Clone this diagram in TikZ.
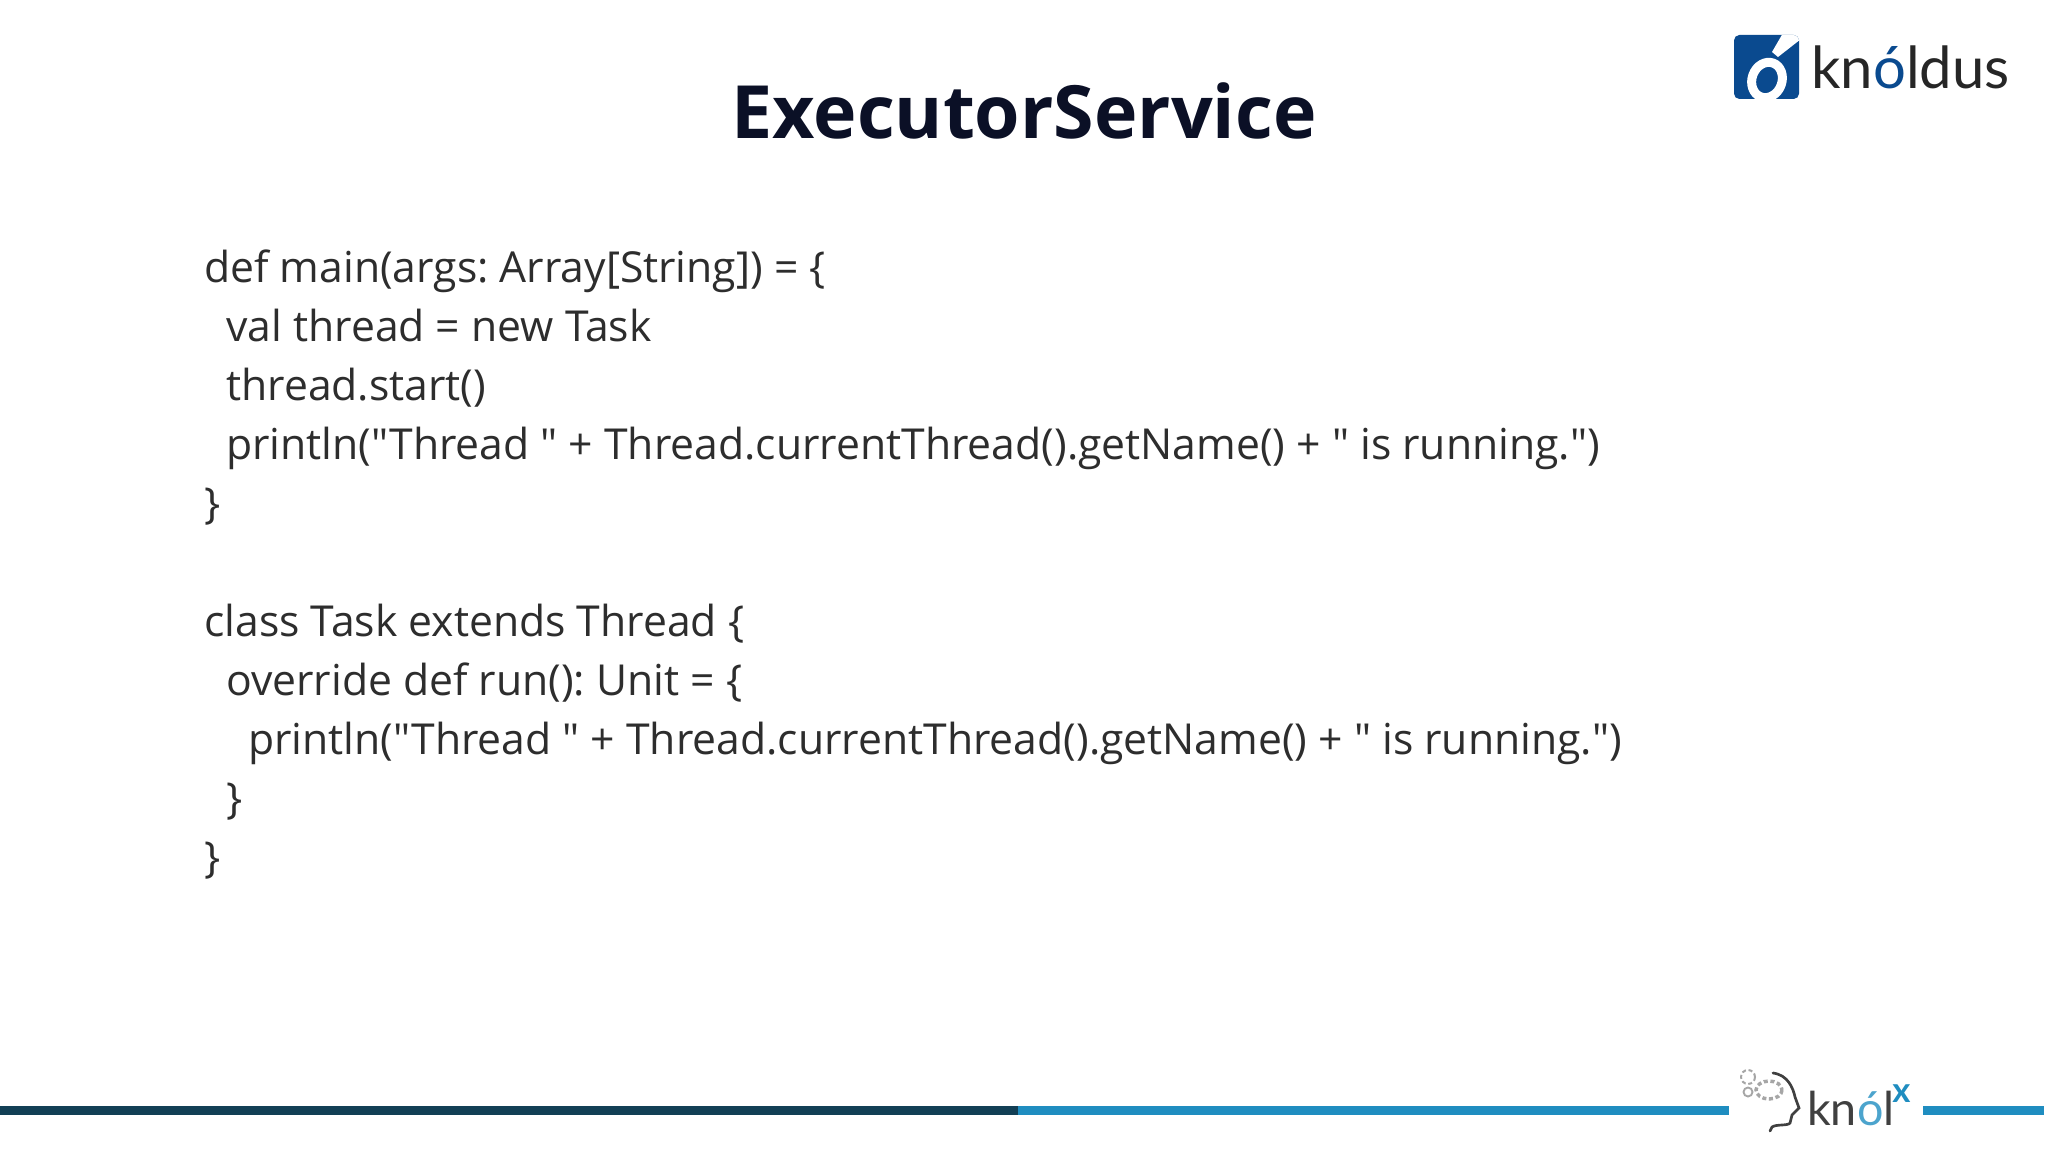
\documentclass[tikz,border=0pt]{standalone}
\usepackage{fontspec}
\usepackage{xcolor}
\newfontfamily\codefont{Open Sans}
\newfontfamily\titlefont{Open Sans}
\newfontfamily\logofont{Lato}
\definecolor{barDark}{RGB}{18,63,85}
\definecolor{barBlue}{RGB}{31,141,192}
\definecolor{logoBlue}{RGB}{10,74,143}
\definecolor{codeInk}{RGB}{45,45,45}
\definecolor{titleInk}{RGB}{11,16,38}
\tikzset{
  codeline/.style={anchor=base west,inner sep=0pt,text=codeInk,font=\codefont\frenchspacing\fontsize{32}{38}\selectfont},
  gearring/.style={draw=gray!70,dash pattern={on 3pt off 2pt},line width=2.6pt}
}
\begin{document}
\begin{tikzpicture}[x=0.75pt,y=0.75pt,yscale=-1,xscale=1]
\useasboundingbox (0,0) rectangle (2048,1152);
\fill [white] (0,0) rectangle (2048,1152);

% Title
\node (title) [anchor=base,inner sep=0pt,text=titleInk,font=\titlefont\bfseries\fontsize{55.1}{65}\selectfont] at (1024,139) {ExecutorService};

% Text Node
\node (mainA) [codeline] at (204,282) {def main(args: Array[String]) = \{};
\node (mainB) [codeline] at (226,341) {val thread = new Task};
\node (mainC) [codeline] at (226,400) {thread.start()};
\node (mainD) [codeline] at (226,459) {println("Thread " + Thread.currentThread().getName() + " is running.")};
\node (mainE) [codeline] at (204,518) {\}};
\node (taskA) [codeline] at (204,636) {class Task extends Thread \{};
\node (taskB) [codeline] at (226,695) {override def run(): Unit = \{};
\node (taskC) [codeline] at (248,754) {println("Thread " + Thread.currentThread().getName() + " is running.")};
\node (taskD) [codeline] at (226,813) {\}};
\node (taskE) [codeline] at (204,872) {\}};

% Bottom bar
\fill [barDark] (0,1106) rectangle (1018,1115);
\fill [barBlue] (1018,1106) rectangle (1729,1115);
\fill [barBlue] (1923,1106) rectangle (2044,1115);

% knoldus logo
\fill [logoBlue,rounded corners=4pt] (1734,35) rectangle (1799,99);
\begin{scope}
\clip [rounded corners=4pt] (1734,35) rectangle (1799,99);
\draw [white,line width=6.75pt,rotate around={20:(1767,80)}] (1767,80) ellipse [x radius=15,y radius=18];
\fill [white] (1783,33) -- (1772,52) -- (1778,57) -- (1801,39) -- (1801,33) -- cycle;
\end{scope}
\node (knoldusName) [anchor=base west,inner sep=0pt,text=black!85,font=\logofont\fontsize{43.5}{50}\selectfont] at (1811,89) {kn\textcolor{logoBlue}{ó}ldus};

% knolx logo
\draw [gearring,line width=1.5pt] (1748,1077) circle [radius=7];
\draw [gray!70,line width=1.4pt] (1748,1092) circle [radius=4.5];
\draw [gearring] (1769,1090) ellipse [x radius=13,y radius=9];
\draw [black!75,line width=2pt,line cap=round] (1773,1073) .. controls (1788,1075) and (1793,1088) .. (1795,1097) -- (1799,1108) -- (1792,1115) -- (1790,1123) .. controls (1788,1126) and (1776,1124) .. (1772,1127) -- (1770,1131);
\node (knolxName) [anchor=base west,inner sep=0pt,text=black!75,font=\logofont\fontsize{35}{40}\selectfont] at (1807,1125) {kn\textcolor{barBlue!80}{ó}l};
\node (knolxSup) [anchor=base west,inner sep=0pt,text=barBlue,font=\logofont\bfseries\fontsize{26}{30}\selectfont] at (1892,1102) {x};
\end{tikzpicture}
\end{document}
